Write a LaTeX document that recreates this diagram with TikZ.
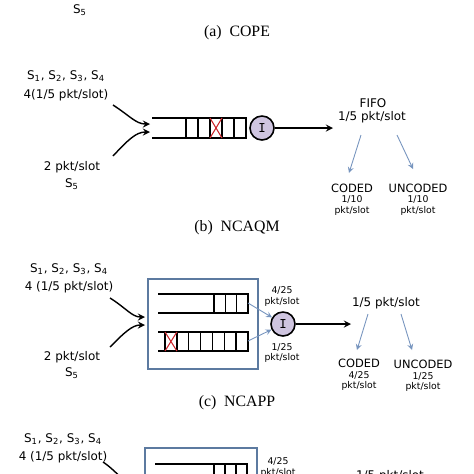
\documentclass[tikz,border=0pt]{standalone}
\usepackage{fontspec}
\setmainfont{Liberation Serif}
\newfontfamily\comicfont{DejaVu Sans}
\newfontfamily\ifont{DejaVu Sans Mono}
\usepackage{tikz}
\usetikzlibrary{positioning}
\definecolor{lightpurple}{RGB}{207,197,224}
\definecolor{boxblue}{RGB}{92,122,160}
\definecolor{arrowblue}{RGB}{118,148,190}
\definecolor{xred}{RGB}{205,40,45}
\tikzstyle{lbl}=[font=\comicfont\fontsize{6.8}{8}\selectfont,inner sep=0pt]
\tikzstyle{small}=[font=\comicfont\fontsize{5.3}{6.2}\selectfont,inner sep=0pt]
\tikzstyle{tag}=[font=\comicfont\fontsize{6.5}{8}\selectfont,inner sep=0pt]
\tikzstyle{caption}=[font=\fontsize{9}{11}\selectfont,inner sep=0pt]
\tikzstyle{inter}=[draw,circle,fill=lightpurple,line width=.9pt,minimum
size=.48cm,inner sep=0pt,font=\ifont\fontsize{7}{8}\selectfont]
\tikzstyle{feed}=[->,line width=.8pt]
\tikzstyle{split}=[->,arrowblue,line width=.5pt]
\tikzstyle{queue}=[line width=.8pt]
\tikzstyle{drop}=[xred,line width=.6pt]

\begin{document}
\begin{tikzpicture}[x=.02cm, y=-.02cm, >=stealth, on grid, node distance=.38cm]
  \useasboundingbox (0,0) rectangle (474,474);
  \clip (0,0) rectangle (474,474);

  \node[lbl] (a5) at (80,10) {S\textsubscript{5}};
  \node[caption] (capa) at (237,33) {(a)\enspace COPE};

  \node[lbl] (bsrc) at (66,76) {S\textsubscript{1}, S\textsubscript{2}, S\textsubscript{3}, S\textsubscript{4}};
  \node[lbl, below=of bsrc] (brate) {4(1/5 pkt/slot)};
  \node[lbl] (bfast) at (72,167) {2 pkt/slot};
  \node[lbl, below=.34cm of bfast] (b5) {S\textsubscript{5}};
  \coordinate (bin1) at (113,105);
  \coordinate (bin2) at (113,156);
  \coordinate (bq1) at (150,124);
  \coordinate (bq2) at (150,132);
  \draw[feed] (bin1) .. controls (130,116) and (136,124) .. (bq1);
  \draw[feed] (bin2) .. controls (128,140) and (136,132) .. (bq2);

  \draw[queue] (152,118) -- (246,118) -- (246,138) -- (152,138);
  \foreach \x in {186,198,210,222,234}
    \draw[queue] (\x,118) -- (\x,138);
  \draw[drop] (210,118) -- (222,138) (222,118) -- (210,138);

  \node[inter] (ib) at (262,128) {I};
  \coordinate (bout) at (333,128);
  \draw[feed] (ib) -- (bout);
  \node[lbl] (fifo) at (373,103) {FIFO};
  \node[lbl] (brate2) at (372,117) {1/5 pkt/slot};
  \coordinate (bs1) at (361,135);
  \coordinate (bs2) at (397,135);
  \node[tag] (bcod) at (352,188) {CODED};
  \node[small, below=.22cm of bcod] (bcod1) {1/10};
  \node[small, below=.24cm of bcod1] (bcod2) {pkt/slot};
  \node[tag] (bunc) at (418,188) {UNCODED};
  \node[small, below=.22cm of bunc] (bunc1) {1/10};
  \node[small, below=.24cm of bunc1] (bunc2) {pkt/slot};
  \draw[split] (bs1) -- (349,173);
  \draw[split] (bs2) -- (413,169);
  \node[caption] (capb) at (237,228) {(b)\enspace NCAQM};

  \node[lbl] (csrc) at (69,269) {S\textsubscript{1}, S\textsubscript{2}, S\textsubscript{3}, S\textsubscript{4}};
  \node[lbl, below=.36cm of csrc] (crate) {4 (1/5 pkt/slot)};
  \node[lbl] (cfast) at (72,357) {2 pkt/slot};
  \node[lbl, below=.32cm of cfast] (c5) {S\textsubscript{5}};
  \coordinate (cin1) at (110,298);
  \coordinate (cin2) at (110,347);
  \coordinate (cq1) at (145,317);
  \coordinate (cq2) at (145,325);
  \draw[feed] (cin1) .. controls (126,308) and (132,317) .. (cq1);
  \draw[feed] (cin2) .. controls (124,333) and (132,325) .. (cq2);

  \draw[boxblue, line width=.8pt] (148,279) rectangle (258,369);
  \draw[queue] (158,294) -- (248,294) -- (248,313) -- (158,313);
  \foreach \x in {214,225.3,236.7}
    \draw[queue] (\x,294) -- (\x,313);
  \draw[queue] (158,332) -- (248,332) -- (248,351) -- (158,351);
  \foreach \x in {165,176.9,188.7,200.6,212.4,224.3,236.1}
    \draw[queue] (\x,332) -- (\x,351);
  \draw[drop] (165,332) -- (176.9,351) (176.9,332) -- (165,351);

  \node[inter] (ic) at (283,324) {I};
  \coordinate (ctop) at (248,303);
  \coordinate (cbot) at (248,341);
  \draw[split] (ctop) -- (ic);
  \draw[split] (cbot) -- (ic);
  \node[small] (chi) at (282,290) {4/25};
  \node[small, below=.24cm of chi] (chi2) {pkt/slot};
  \node[small] (clo) at (282,347) {1/25};
  \node[small, below=.22cm of clo] (clo2) {pkt/slot};
  \coordinate (cout) at (351,324);
  \draw[feed] (ic) -- (cout);
  \node[lbl] (crate2) at (386,303) {1/5 pkt/slot};
  \coordinate (cs1) at (368,314);
  \coordinate (cs2) at (401,314);
  \node[tag] (ccod) at (359,363) {CODED};
  \node[small, below=.24cm of ccod] (ccod1) {4/25};
  \node[small, below=.22cm of ccod1] (ccod2) {pkt/slot};
  \node[tag] (cunc) at (423,364) {UNCODED};
  \node[small, below=.24cm of cunc] (cunc1) {1/25};
  \node[small, below=.22cm of cunc1] (cunc2) {pkt/slot};
  \draw[split] (cs1) -- (357,350);
  \draw[split] (cs2) -- (412,350);
  \node[caption] (capc) at (237,403) {(c)\enspace NCAPP};

  \node[lbl] (dsrc) at (63,439) {S\textsubscript{1}, S\textsubscript{2}, S\textsubscript{3}, S\textsubscript{4}};
  \node[lbl, below=.36cm of dsrc] (drate) {4 (1/5 pkt/slot)};
  \coordinate (din1) at (103,462);
  \coordinate (dq1) at (142,488);
  \draw[feed] (din1) .. controls (118,472) and (128,488) .. (dq1);
  \draw[boxblue, line width=.8pt] (145,448) rectangle (257,540);
  \draw[queue] (155,464) -- (247,464) -- (247,483) -- (155,483);
  \foreach \x in {214,225,236}
    \draw[queue] (\x,464) -- (\x,483);
  \node[small] (dhi) at (278,461) {4/25};
  \node[small, below=.24cm of dhi] (dhi2) {pkt/slot};
  \node[lbl] (drate2) at (390,476) {1/5 pkt/slot};
\end{tikzpicture}
\end{document}
